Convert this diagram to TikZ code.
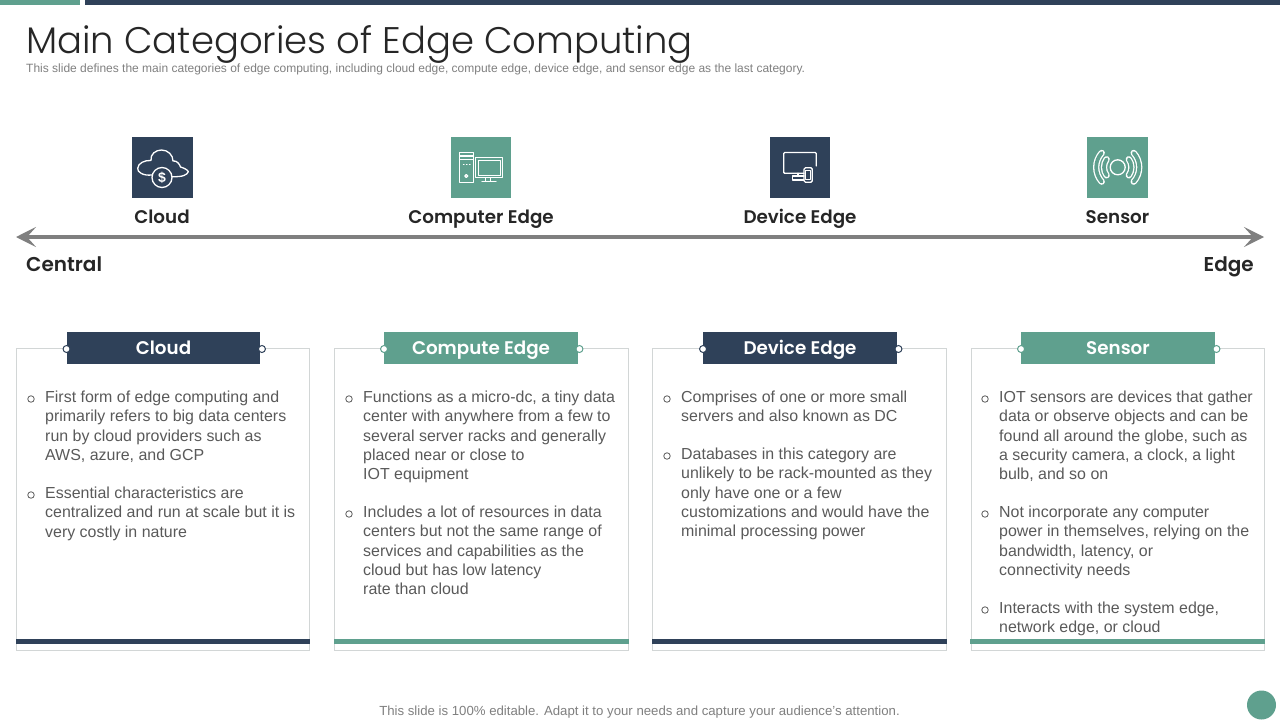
\documentclass[tikz,border=0pt]{standalone}
\usepackage{fontspec}
\setmainfont{Liberation Sans}
\newfontfamily\headfont{Poppins}[UprightFont=* SemiBold]
\newfontfamily\titlefont{Poppins}[UprightFont=* Light]
\usetikzlibrary{positioning, calc, arrows.meta}

\definecolor{navyBox}{HTML}{2F4159}
\definecolor{greenBox}{HTML}{5FA08E}
\definecolor{bodyGray}{HTML}{595959}
\definecolor{axisGray}{HTML}{7F7F7F}
\definecolor{cardGray}{HTML}{D2D6D6}

\tikzset{
    iconbox/.style={minimum width=60.5pt, minimum height=61pt, inner sep=0pt},
    iconline/.style={draw=white, line width=1.3pt, line join=round, line cap=round},
    toplabel/.style={font=\headfont\fontsize{18.3}{22}\selectfont, text=black!85, inner sep=0pt},
    endlabel/.style={font=\headfont\fontsize{20}{24}\selectfont, text=black!85, inner sep=0pt},
    headbox/.style={minimum width=193.5pt, minimum height=32pt, inner sep=0pt, text height=15pt, text depth=1.5pt, text=white, font=\headfont\fontsize{18.3}{22}\selectfont},
    hookdot/.style={circle, draw=navyBox, fill=white, line width=1pt, minimum size=7pt, inner sep=0pt},
    bullettext/.style={anchor=north west, inner sep=0pt, align=left, text=bodyGray, font=\fontsize{15.95}{19.2}\selectfont},
    bulletmark/.style={circle, draw=bodyGray, line width=.8pt, minimum size=6.5pt, inner sep=0pt},
    cardline/.style={draw=cardGray, line width=1pt},
}

\begin{document}
\begin{tikzpicture}[x=1pt, y=-1pt]
    \useasboundingbox (0,0) rectangle (1280,720);

    % Top bars and title
    \fill[greenBox] (0,0) rectangle (80,5);
    \fill[navyBox] (85,0) rectangle (1280,5);
    \node[anchor=base west, inner sep=0pt, text=black!85, font=\titlefont\fontsize{37}{44}\selectfont] (mainTitle) at (26,53) {Main Categories of Edge Computing};
    \node[anchor=base west, inner sep=0pt, text=axisGray, font=\fontsize{12}{14}\selectfont] (subTitle) at (26,72) {This slide defines the main categories of edge computing, including cloud edge, compute edge, device edge, and sensor edge as the last category.};

    % Icon squares
    \node[iconbox, fill=navyBox] (iconCloud) at (162.5,167.5) {};
    \node[iconbox, fill=greenBox] (iconComputer) at (481,167.5) {};
    \node[iconbox, fill=navyBox] (iconDevice) at (800,167.5) {};
    \node[iconbox, fill=greenBox] (iconSensor) at (1117.5,167.5) {};

    % Cloud with coin
    \draw[iconline] (152,175) .. controls (143,176) and (137,172) .. (137.7,168.3) .. controls (138,163) and (145,160) .. (151,160.5) .. controls (150,154) and (156,150) .. (161.5,150) .. controls (168,150) and (173,155) .. (173,161) .. controls (177,160) and (180,165) .. (180.5,167) .. controls (184,168) and (188,170) .. (188.3,171.7) .. controls (187,175) and (183,177) .. (172,176.7);
    \node[circle, draw=white, line width=1.3pt, minimum size=20pt, inner sep=0pt, text=white, font=\bfseries\fontsize{14}{14}\selectfont] (coinMark) at (162,177.5) {\$};

    % Computer
    \draw[iconline] (459.5,152.5) rectangle (473.3,182.7);
    \draw[iconline] (459.5,156) -- (473.3,156) (459.5,159.5) -- (473.3,159.5);
    \draw[iconline] (463.5,164.3) -- (464,164.3) (466.5,164.3) -- (467,164.3) (469.5,164.3) -- (470,164.3);
    \draw[iconline] (466.3,176) circle (1.5);
    \draw[iconline] (475.7,157.3) rectangle (502.3,177.7);
    \draw[iconline, line width=.8pt] (478.3,160) rectangle (500,175);
    \draw[iconline] (485.5,177.7) -- (485.5,181) (490.5,177.7) -- (490.5,181);
    \draw[iconline] (482,181.5) -- (496,181.5);

    % Monitor and phone
    \draw[iconline, rounded corners=1pt] (804,173.3) -- (783.7,173.3) -- (783.7,152.5) -- (816.3,152.5) -- (816.3,166);
    \draw[iconline] (804,176) -- (792.5,176) -- (792.5,180) -- (804,180) (798,173.3) -- (798,176);
    \draw[iconline, rounded corners=1.5pt] (804,167.7) rectangle (812.3,182.3);
    \draw[iconline, line width=.8pt] (805.5,170) rectangle (810.8,179);

    % Sensor waves
    \foreach \rad/\ang in {21.5/42,13.7/36}{
        \draw[white, line width=6.3pt, line cap=round] (1117.7,167.3) ++(180-\ang:\rad) arc[start angle=180-\ang, end angle=180+\ang, radius=\rad];
        \draw[white, line width=6.3pt, line cap=round] (1117.7,167.3) ++(-\ang:\rad) arc[start angle=-\ang, end angle=\ang, radius=\rad];
        \draw[greenBox, line width=3.7pt, line cap=round] (1117.7,167.3) ++(180-\ang:\rad) arc[start angle=180-\ang, end angle=180+\ang, radius=\rad];
        \draw[greenBox, line width=3.7pt, line cap=round] (1117.7,167.3) ++(-\ang:\rad) arc[start angle=-\ang, end angle=\ang, radius=\rad];
    }
    \draw[iconline] (1117.7,167.3) circle (7.5);

    % Labels over the axis
    \node[toplabel, anchor=base] (labelCloud) at (162,223) {Cloud};
    \node[toplabel, anchor=base] (labelComputer) at (481,223) {Computer Edge};
    \node[toplabel, anchor=base] (labelDevice) at (800,223) {Device Edge};
    \node[toplabel, anchor=base] (labelSensor) at (1117.5,223) {Sensor};

    % Axis
    \coordinate (axisLeft) at (16,237);
    \coordinate (axisRight) at (1264,237);
    \draw[axisGray, line width=4pt, {Stealth[length=20pt, width=20pt, inset=9pt]}-{Stealth[length=20pt, width=20pt, inset=9pt]}] (axisLeft) -- (axisRight);
    \node[endlabel, anchor=base west] (labelCentral) at (26,271) {Central};
    \node[endlabel, anchor=base east] (labelEdge) at (1254,271) {Edge};

    % Cards
    \draw[cardline] (16.5,348.5) rectangle (309.5,650.5);
    \draw[cardline] (334.5,348.5) rectangle (628.5,650.5);
    \draw[cardline] (652.5,348.5) rectangle (946.5,650.5);
    \draw[cardline] (971,348.5) rectangle (1264.5,650.5);
    \fill[navyBox] (16,639) rectangle (310,643.5);
    \fill[greenBox] (334,639) rectangle (629,643.5);
    \fill[navyBox] (652,639) rectangle (947,643.5);
    \fill[greenBox] (970,639) rectangle (1265,643.5);

    % Card headers
    \node[headbox, fill=navyBox] (headCloud) at (163.5,348) {Cloud};
    \node[headbox, fill=greenBox] (headCompute) at (481,348) {Compute Edge};
    \node[headbox, fill=navyBox] (headDevice) at (800,348) {Device Edge};
    \node[headbox, fill=greenBox] (headSensor) at (1118,348) {Sensor};
    \node[hookdot] (hookCloudL) at ($(headCloud.west)+(0,1)$) {};
    \node[hookdot] (hookCloudR) at ($(headCloud.east)+(1.5,1)$) {};
    \node[hookdot, draw=greenBox] (hookComputeL) at ($(headCompute.west)+(0,1)$) {};
    \node[hookdot, draw=greenBox] (hookComputeR) at ($(headCompute.east)+(1.5,1)$) {};
    \node[hookdot] (hookDeviceL) at ($(headDevice.west)+(0,1)$) {};
    \node[hookdot] (hookDeviceR) at ($(headDevice.east)+(1.5,1)$) {};
    \node[hookdot, draw=greenBox] (hookSensorL) at ($(headSensor.west)+(0,1)$) {};
    \node[hookdot, draw=greenBox] (hookSensorR) at ($(headSensor.east)+(1.5,1)$) {};

    % Cloud text
    \node[bulletmark] (markCloudA) at (31,399) {};
    \node[bullettext] (textCloudA) at (45,389) {\strut First form of edge computing and\\primarily refers to big data centers\\run by cloud providers such as\\AWS, azure, and GCP};
    \node[bulletmark] (markCloudB) at (31,495) {};
    \node[bullettext] (textCloudB) at (45,485) {\strut Essential characteristics are\\centralized and run at scale but it is\\very costly in nature};

    % Compute text
    \node[bulletmark] (markComputeA) at (349,399) {};
    \node[bullettext] (textComputeA) at (363,389) {\strut Functions as a micro-dc, a tiny data\\center with anywhere from a few to\\several server racks and generally\\placed near or close to\\IOT equipment};
    \node[bulletmark] (markComputeB) at (349,514) {};
    \node[bullettext] (textComputeB) at (363,504) {\strut Includes a lot of resources in data\\centers but not the same range of\\services and capabilities as the\\cloud but has low latency\\rate than cloud};

    % Device text
    \node[bulletmark] (markDeviceA) at (667,399) {};
    \node[bullettext] (textDeviceA) at (681,389) {\strut Comprises of one or more small\\servers and also known as DC};
    \node[bulletmark] (markDeviceB) at (667,456) {};
    \node[bullettext] (textDeviceB) at (681,446) {\strut Databases in this category are\\unlikely to be rack-mounted as they\\only have one or a few\\customizations and would have the\\minimal processing power};

    % Sensor text
    \node[bulletmark] (markSensorA) at (985,399) {};
    \node[bullettext] (textSensorA) at (999,389) {\strut IOT sensors are devices that gather\\data or observe objects and can be\\found all around the globe, such as\\a security camera, a clock, a light\\bulb, and so on};
    \node[bulletmark] (markSensorB) at (985,514) {};
    \node[bullettext] (textSensorB) at (999,504) {\strut Not incorporate any computer\\power in themselves, relying on the\\bandwidth, latency, or\\connectivity needs};
    \node[bulletmark] (markSensorC) at (985,610) {};
    \node[bullettext] (textSensorC) at (999,600) {\strut Interacts with the system edge,\\network edge, or cloud};

    % Footer
    \node[anchor=base, inner sep=0pt, text=axisGray, font=\fontsize{13.2}{15}\selectfont] (footNote) at (639.5,715) {This slide is 100\% editable. Adapt it to your needs and capture your audience's attention.};
    \node[circle, fill=greenBox, minimum size=29pt, inner sep=0pt] (cornerDot) at (1261.5,705) {};
\end{tikzpicture}
\end{document}
